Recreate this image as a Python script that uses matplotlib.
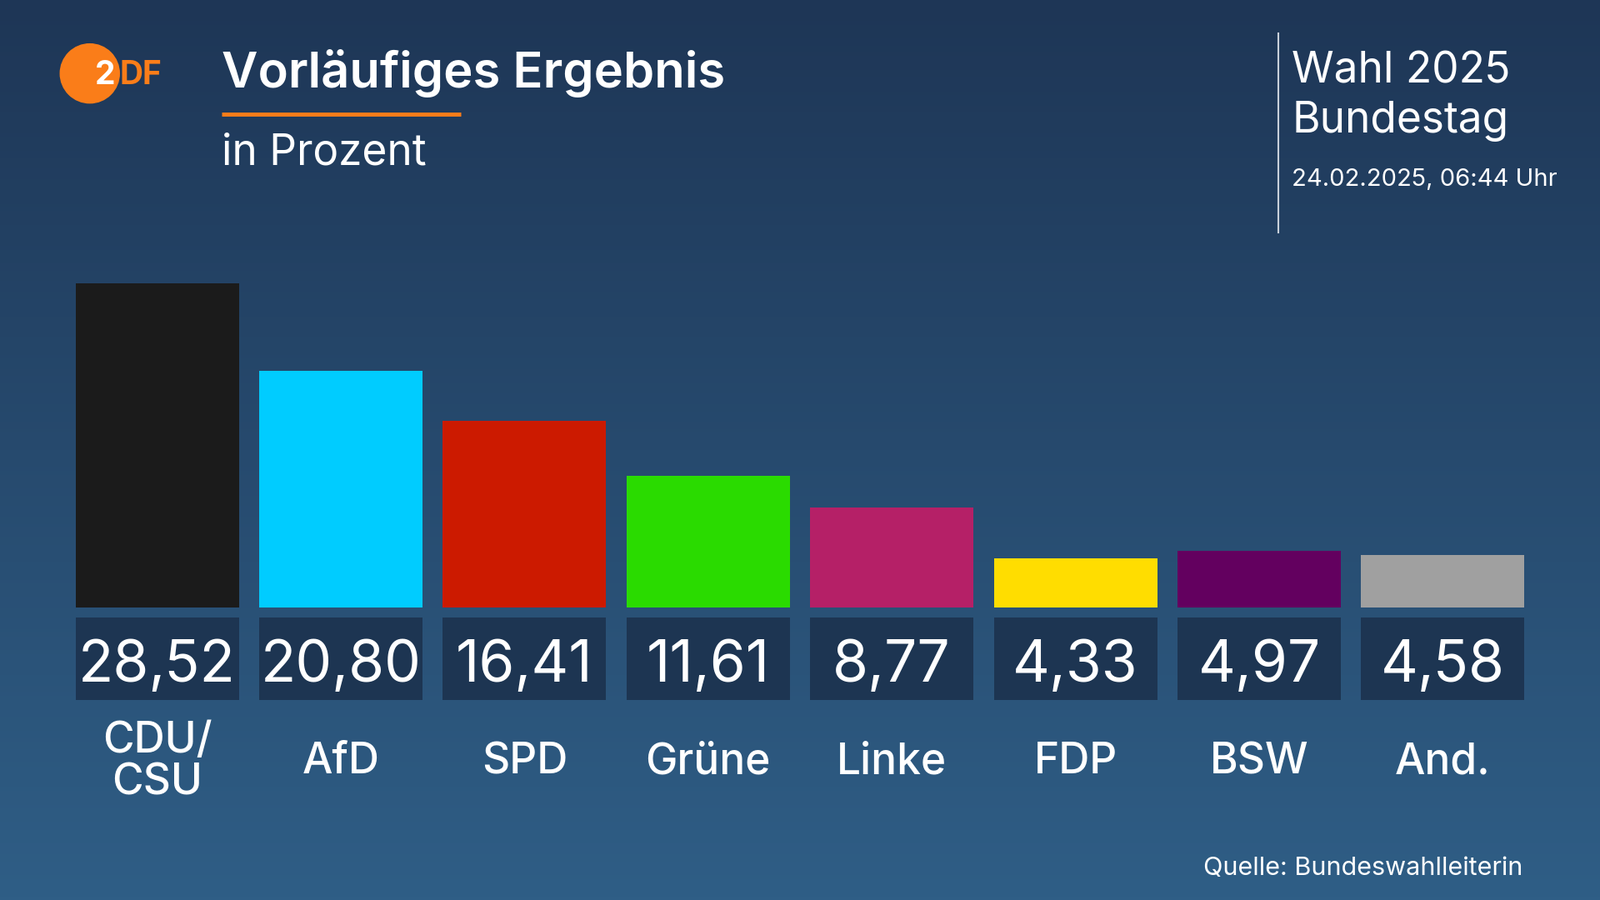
import numpy as np
import matplotlib.pyplot as plt
from matplotlib.patches import Circle
from matplotlib.colors import LinearSegmentedColormap

parties = ["CDU/\nCSU", "AfD", "SPD", "Grüne", "Linke", "FDP", "BSW", "And."]
values = [28.52, 20.80, 16.41, 11.61, 8.77, 4.33, 4.97, 4.58]
value_labels = ["28,52", "20,80", "16,41", "11,61", "8,77", "4,33", "4,97", "4,58"]
colors = ["#1b1b1b", "#00ccff", "#cc1a00", "#2adb00", "#b52067", "#ffdd00", "#63005f", "#a0a0a0"]

W, H = 1568, 882
FONT = "Inter"
fig = plt.figure(figsize=(19.2, 10.8), dpi=100)

# background gradient
bg = fig.add_axes([0, 0, 1, 1])
grad = np.linspace(0, 1, 256)[:, None]
cmap = LinearSegmentedColormap.from_list("bg", ["#1e3656", "#2f5e86"])
bg.imshow(grad, aspect="auto", cmap=cmap, extent=[0, W, H, 0])
bg.set_xlim(0, W)
bg.set_ylim(H, 0)
bg.axis("off")

# logo
bg.add_patch(Circle((88, 72), 29, color="#fa7d19"))
bg.text(103, 74, "2", color="white", fontsize=28, fontweight="bold", family=FONT, ha="center", va="center")
bg.text(138, 74, "DF", color="#fa7d19", fontsize=28, fontweight="bold", family=FONT, ha="center", va="center")

bg.text(217, 72, "Vorläufiges Ergebnis", color="white", fontsize=43, fontweight="semibold", family=FONT, va="center")
bg.plot([217, 452], [112, 112], color="#fa7d19", lw=3.5, solid_capstyle="butt")
bg.text(217, 150, "in Prozent", color="white", fontsize=37, family=FONT, va="center")
bg.plot([1253, 1253], [33, 228], color="#c8d0da", lw=1.5)
bg.text(1266, 70, "Wahl 2025", color="white", fontsize=37, family=FONT, va="center")
bg.text(1266, 119, "Bundestag", color="white", fontsize=37, family=FONT, va="center")
bg.text(1266, 176, "24.02.2025, 06:44 Uhr", color="white", fontsize=21, family=FONT, va="center")
bg.text(1492, 851, "Quelle: Bundeswahlleiterin", color="white", fontsize=22, family=FONT, ha="right", va="center")

# bars
ppu = (595 - 278) / 28.52
top_val = 30
ax = fig.add_axes([74 / W, 1 - 595 / H, 1420 / W, top_val * ppu / H])
ax.patch.set_alpha(0)
x = np.arange(len(values))
wb = 160 / 180
ax.bar(x, values, width=wb, color=colors)
box_top = -10 / ppu
box_bot = -91 / ppu
ax.bar(x, box_bot - box_top, bottom=box_top, width=wb, color="#1d3552", clip_on=False)
for xi, vl, p in zip(x, value_labels, parties):
    ax.text(xi, -58 / ppu, vl, color="white", fontsize=50, family=FONT,
            ha="center", va="center")
    ax.text(xi, -152 / ppu, p, color="white", fontsize=37, family=FONT, fontweight="medium",
            ha="center", va="center", linespacing=1.05)
ax.set_xlim(-wb / 2, len(values) - 1 + wb / 2)
ax.set_ylim(0, top_val)
ax.axis("off")

fig.savefig("out.png", dpi=100)
